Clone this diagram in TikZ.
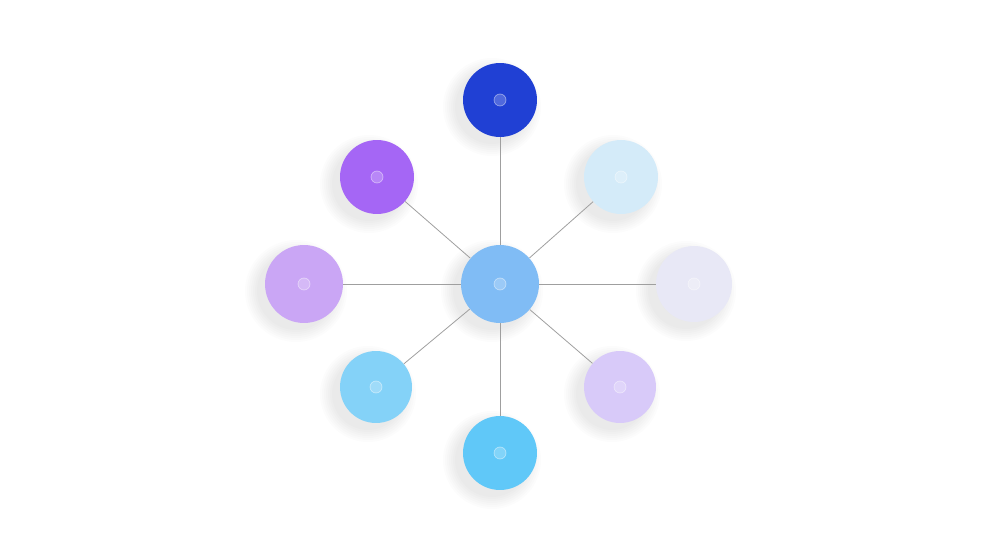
\documentclass[tikz,border=0pt]{standalone}
\usepackage{tikz}

\definecolor{hubblue}{RGB}{128,188,245}
\definecolor{deepblue}{RGB}{32,64,212}
\definecolor{violet1}{RGB}{165,102,245}
\definecolor{iceblue}{RGB}{212,235,249}
\definecolor{lavender1}{RGB}{202,166,245}
\definecolor{mist1}{RGB}{232,232,246}
\definecolor{sky1}{RGB}{132,210,248}
\definecolor{lilac1}{RGB}{216,202,249}
\definecolor{cyan1}{RGB}{96,200,248}

\begin{document}
\begin{tikzpicture}[x=0.02cm, y=-0.02cm,
    disc/.style={shape=circle, minimum size=#1*0.04cm, inner sep=0pt},
    core/.style={shape=circle, minimum size=0.24cm, inner sep=0pt, fill=white, fill opacity=0.22, draw=white, draw opacity=0.45, line width=0.4pt},
    spoke/.style={draw=gray!75, line width=0.45pt}]
    \useasboundingbox[fill=white] (0,0) rectangle (1000,560);
    % Paths, nodes and wires:
    \foreach \n/\x/\y/\r/\c in {0/500/284/39/hubblue, 1/500/100/37/deepblue, 2/621/177/37/iceblue, 3/694/284/38/mist1, 4/620/387/36/lilac1, 5/500/453/37/cyan1, 6/376/387/36/sky1, 7/304/284/39/lavender1, 8/377/177/37/violet1}{
        \foreach \k in {0,...,6}
            \fill[black, opacity=0.012] (\x-8,\y+7) circle ({\r+12-2*\k});
        \node[disc=\r, fill=\c](N\n) at (\x,\y){};
    }
    \foreach \i in {1,...,8}
        \draw[spoke] (N0) -- (N\i);
    \foreach \i in {0,...,8}
        \node[core] at (N\i){};
\end{tikzpicture}
\end{document}
